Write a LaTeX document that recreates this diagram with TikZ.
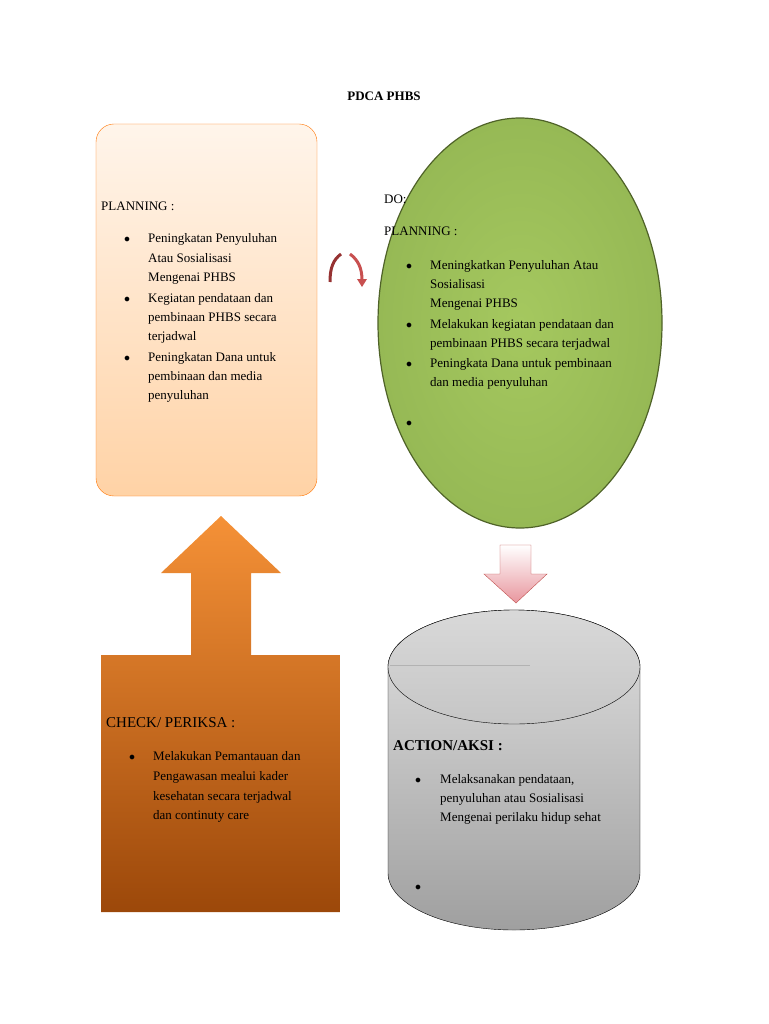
\documentclass[tikz,border=0pt]{standalone}
\usepackage{fontspec}
\setmainfont{Liberation Serif}
\usetikzlibrary{shapes.geometric}
\begin{document}
\begin{tikzpicture}[x=1pt,y=-1pt,
 txt/.style={anchor=base west,inner sep=0,font=\fontsize{13}{19}\selectfont},
 bul/.style={anchor=base west,inner sep=0,font=\fontsize{13}{19}\selectfont}]
\useasboundingbox (0,0) rectangle (768,1024);
\node[anchor=base,font=\bfseries\fontsize{13}{15}\selectfont] (title) at (384,101) {PDCA PHBS};
% planning box
\shade[top color=orange!8, bottom color=orange!35!white, draw=orange!90!red, rounded corners=18] (96,124) rectangle (317,496);
\node[txt] (p0) at (101,211) {PLANNING :};
\foreach \y/\t in {243/Peningkatan Penyuluhan,262/Atau Sosialisasi,281/Mengenai PHBS,302/Kegiatan pendataan dan,321/pembinaan PHBS secara,340/terjadwal,361/Peningkatan Dana untuk,380/pembinaan dan media,399/penyuluhan}
  \node[txt] at (148,\y) {\t};
\foreach \y in {243,302,361} \node[bul] at (124,\y) {$\bullet$};
% ellipse
\shade[inner color={rgb,255:red,165;green,200;blue,95}, outer color={rgb,255:red,150;green,185;blue,85}, draw={rgb,255:red,79;green,98;blue,40}, line width=1.2] (520,323) ellipse (142 and 205);
\node[txt] (d0) at (384,204) {DO:};
\node[txt] (d1) at (384,236) {PLANNING :};
\foreach \y/\t in {269/Meningkatkan Penyuluhan Atau,288/Sosialisasi,307/Mengenai PHBS,328/Melakukan kegiatan pendataan dan,347/pembinaan PHBS secara terjadwal,367/Peningkata Dana untuk pembinaan,386/dan media penyuluhan}
  \node[txt] at (430,\y) {\t};
\foreach \y in {269,328,367,426} \node[bul] at (406,\y) {$\bullet$};
% curved arrows
\draw[line width=3,color={rgb,255:red,150;green,50;blue,50}] (330,282) .. controls (330,268) and (333,260) .. (341,254);
\draw[line width=3,color={rgb,255:red,200;green,80;blue,80}] (350,254) .. controls (358,260) and (362,268) .. (362,280);
\fill[color={rgb,255:red,200;green,80;blue,80}] (357,279) -- (367,279) -- (362,287) -- cycle;
% pink down arrow
\shade[top color=white, bottom color={rgb,255:red,232;green,150;blue,158}, draw={rgb,255:red,192;green,80;blue,77}]
 (500,545) -- (531,545) -- (531,574) -- (547,574) -- (516,603) -- (484,574) -- (500,574) -- cycle;
% orange arrow + box
\shade[top color={rgb,255:red,245;green,145;blue,55}, bottom color={rgb,255:red,156;green,72;blue,10}]
 (101,655) -- (191,655) -- (191,573) -- (161,573) -- (221,516) -- (281,573) -- (251,573) -- (251,655) -- (340,655) -- (340,912) -- (101,912) -- cycle;
\node[txt,font=\fontsize{15}{18}\selectfont] (c0) at (106,727) {CHECK/ PERIKSA :};
\foreach \y/\t in {760/Melakukan Pemantauan dan,780/Pengawasan mealui kader,800/kesehatan secara terjadwal,819/dan continuty care}
  \node[txt] at (153,\y) {\t};
\node[bul] at (129,760) {$\bullet$};
% cylinder
\shade[top color=gray!25, bottom color=gray!75, draw=black] (388,667) -- (388,873) arc[start angle=180,end angle=0,x radius=126,y radius=57] -- (640,667) arc[start angle=0,end angle=-180,x radius=126,y radius=57] -- cycle;
\shade[top color=gray!30, bottom color=gray!45, draw=black] (514,667) ellipse (126 and 57);
\draw[gray!60] (390,665) -- (530,665);
\node[txt,font=\bfseries\fontsize{15}{18}\selectfont] (a0) at (393,750) {ACTION/AKSI :};
\foreach \y/\t in {783/{Melaksanakan pendataan,},802/penyuluhan atau Sosialisasi,821/Mengenai perilaku hidup sehat}
  \node[txt] at (440,\y) {\t};
\foreach \y in {783,890} \node[bul] at (415,\y) {$\bullet$};
\end{tikzpicture}
\end{document}
